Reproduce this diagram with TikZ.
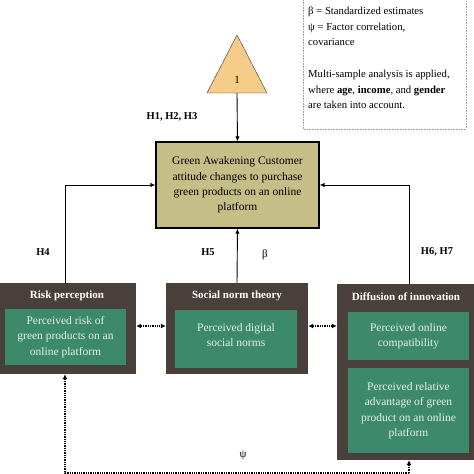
\documentclass[tikz,border=0pt]{standalone}
\usepackage{fontspec}
\setmainfont{Liberation Serif}
\usetikzlibrary{arrows.meta}
\definecolor{khaki}{HTML}{C6BE87}
\definecolor{tri}{HTML}{F5CC88}
\definecolor{brownbox}{HTML}{4A403B}
\definecolor{greenbox}{HTML}{3C8A6B}
\definecolor{greentext}{HTML}{E6F2E4}
\definecolor{legendline}{HTML}{A0A0A0}
\tikzset{
  mainbox/.style={draw=black, line width=1.3pt, fill=khaki, inner sep=0pt,
    minimum width=163pt, minimum height=86pt, align=center,
    font=\fontsize{11.5}{15.3}\selectfont},
  groupbox/.style={fill=brownbox, inner sep=0pt},
  grouptitle/.style={text=white, font=\bfseries\fontsize{11}{13}\selectfont},
  innerbox/.style={fill=greenbox, inner sep=0pt, text=greentext, align=center,
    font=\fontsize{11.5}{15.5}\selectfont},
  innertext/.style={text=greentext, align=center, inner sep=0pt,
    font=\fontsize{11.5}{15.5}\selectfont},
  hlabel/.style={font=\bfseries\fontsize{10.5}{12}\selectfont},
  arr/.style={line width=0.9pt, -{Latex[length=5pt,width=4.5pt]}},
  dotarr/.style={line width=1.3pt, densely dotted, {Latex[length=5pt,width=5pt]}-{Latex[length=5pt,width=5pt]}},
  legend/.style={draw=legendline, densely dotted, line width=0.6pt},
  legendtext/.style={anchor=north west, align=left, inner sep=0pt,
    font=\fontsize{10.7}{15.4}\selectfont}
}
\begin{document}
\begin{tikzpicture}[x=1pt,y=-1pt]
\useasboundingbox (0,0) rectangle (474,474);

% legend
\draw[legend] (303,-3) rectangle (466,129);
\node[legendtext] (leg) at (308,7) {β = Standardized estimates\\
ψ = Factor correlation,\\ covariance\\[17pt]
Multi-sample analysis is applied,\\
where \textbf{age}, \textbf{income}, and \textbf{gender}\\
are taken into account.};

% triangle
\draw[fill=tri, draw=black!80, line width=0.4pt] (237,35) -- (267,93) -- (207,93) -- cycle;
\coordinate (tribase) at (237,93);
\node[font=\fontsize{11}{13}\selectfont] (one) at (237,80) {1};

% main box
\node[mainbox] (main) at (237.5,185) {Green Awakening Customer\\ attitude changes to purchase\\ green products on an online\\ platform};

% group boxes
\node[groupbox, minimum width=138pt, minimum height=91pt] (risk) at (67,328.5) {};
\node[grouptitle] (risktitle) at (67,296) {Risk perception};
\node[innerbox, minimum width=121pt, minimum height=56pt] (riskin) at (65.5,337) {Perceived risk of\\ green products on an\\ online platform};

\node[groupbox, minimum width=142pt, minimum height=91pt] (social) at (237,328.5) {};
\node[grouptitle] (socialtitle) at (237,296) {Social norm theory};
\node[innerbox, minimum width=122pt, minimum height=58pt] (socialin) at (236,339) {};
\node[innertext] (socialtext) at (236,335) {Perceived digital\\ social norms};

\node[groupbox, minimum width=140pt, minimum height=176pt] (diff) at (407,372) {};
\node[grouptitle] (difftitle) at (406,297) {Diffusion of innovation};
\node[innerbox, minimum width=121pt, minimum height=48pt] (diffin1) at (408.5,336) {Perceived online\\ compatibility};
\node[innerbox, minimum width=121pt, minimum height=85pt] (diffin2) at (408.5,410.5) {Perceived relative\\ advantage of green\\ product on an online\\ platform};

% connectors
\coordinate (lx) at (65,0);
\coordinate (rx) at (409,0);
\coordinate (botr) at (409,473);
\draw[arr] (tribase) -- (main.north);
\draw[arr] (risk.north -| lx) |- (main.west);
\draw[arr] (diff.north -| rx) |- (main.east);
\draw[arr] (social.north) -- (main.south);
\draw[dotarr] (risk.east |- riskin.center) ++(0,-11) coordinate (d1) -- (social.west |- d1);
\draw[dotarr] (social.east |- d1) -- (diff.west |- d1);
\draw[line width=1.3pt, densely dotted, {Latex[length=5pt,width=5pt]}-] (risk.south -| lx) |- (botr);
\draw[line width=1.3pt, densely dotted, -{Latex[length=5pt,width=5pt]}] (botr) -- (diff.south -| rx);

% labels
\node[hlabel] (h123) at (172,117) {H1, H2, H3};
\node[hlabel] (h4) at (43,252) {H4};
\node[hlabel] (h5) at (208,252) {H5};
\node[font=\fontsize{11}{13}\selectfont] (beta) at (265,255) {β};
\node[hlabel] (h67) at (437,252) {H6, H7};
\node[font=\fontsize{11}{13}\selectfont] (psi) at (243,455) {ψ};
\end{tikzpicture}
\end{document}
